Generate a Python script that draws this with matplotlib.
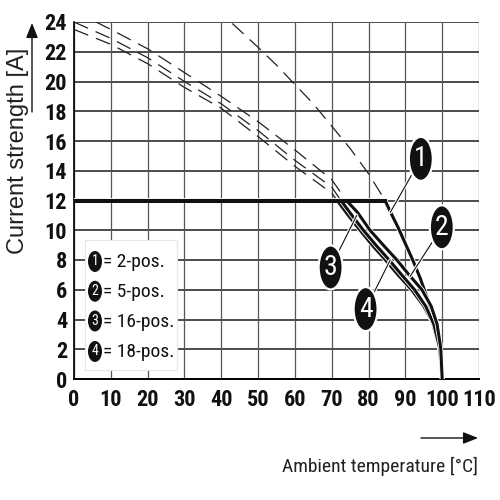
import matplotlib
matplotlib.use("Agg")
import matplotlib.pyplot as plt
from matplotlib import font_manager as fm
from matplotlib.patches import Ellipse, Rectangle, FancyArrowPatch
import matplotlib.patheffects as pe

# ---------------- data ----------------
x_ticks = [0, 10, 20, 30, 40, 50, 60, 70, 80, 90, 100, 110]
y_ticks = [0, 2, 4, 6, 8, 10, 12, 14, 16, 18, 20, 22, 24]

callout_labels = ["1", "2", "3", "4"]
legend_labels = ["2-pos.", "5-pos.", "16-pos.", "18-pos."]

# dashed (theoretical) parts above 12 A
c1_dash_t = [43, 50, 55, 60, 65, 70, 75, 80, 84.5]
c1_dash_i = [23.9, 22.3, 21.1, 19.8, 18.5, 17.0, 15.5, 13.8, 12.0]
c2_dash_t = [6, 10, 20, 30, 40, 50, 60, 70, 74]
c2_dash_i = [24.0, 23.5, 22.2, 20.6, 19.0, 17.3, 15.4, 13.4, 12.0]
c3_dash_t = [0, 10, 20, 30, 40, 50, 60, 70, 72.5]
c3_dash_i = [24.0, 22.9, 21.6, 20.0, 18.5, 16.7, 14.7, 12.9, 12.0]
c4_dash_t = [0, 10, 20, 30, 40, 50, 60, 70, 71.5]
c4_dash_i = [23.5, 22.5, 21.2, 19.6, 18.2, 16.3, 14.3, 12.5, 12.0]

# solid derating curves
c1_t = [0, 84.5, 86, 88, 90, 92, 94, 96, 98, 99, 99.6, 100]
c1_i = [12, 12.0, 11.2, 10.2, 9.1, 8.0, 6.8, 5.4, 3.7, 2.5, 1.4, 0]
c2_t = [0, 74, 77, 80.4, 84, 87.7, 91, 94.5, 97, 98.6, 99.6, 100]
c2_i = [12, 12, 11.2, 10.0, 9.0, 8.0, 7.0, 6.0, 4.9, 3.7, 2.1, 0]
c3_t = [0, 72.5, 75.5, 78.6, 82, 85.6, 89, 92.5, 95.5, 97.7, 99.3, 100]
c3_i = [12, 12, 11.0, 10.0, 9.0, 8.0, 7.0, 6.0, 4.9, 3.7, 2.1, 0]
c4_t = [0, 71.5, 74.5, 77.7, 81, 84.6, 88, 91.7, 95, 97.4, 99.2, 100]
c4_i = [12, 12, 11.0, 10.0, 9.0, 8.0, 7.0, 6.0, 4.9, 3.8, 2.1, 0]

# ---------------- fonts ----------------
names = {f.name for f in fm.fontManager.ttflist}
def pick(cands):
    for n in cands:
        if n in names:
            return n
    return "DejaVu Sans"
NARROW = pick(["Roboto Condensed", "Liberation Sans Narrow", "Liberation Sans"])
REG = pick(["Liberation Sans", "Arial", "DejaVu Sans"])

plt.rcParams["lines.scale_dashes"] = False

W = H = 500
fig = plt.figure(figsize=(5, 5), dpi=100)
fig.patch.set_facecolor("white")
L, R, T, B = 74, 479, 22, 379
ax = fig.add_axes([L / W, 1 - B / H, (R - L) / W, (B - T) / H])
ax.set_xlim(0, 110)
ax.set_ylim(0, 24)

# grid
for yv in y_ticks:
    ax.axhline(yv, color="#1a1a1a", lw=1.1, zorder=1)
for xv in x_ticks:
    ax.axvline(xv, color="#555555", lw=0.9, zorder=1)
for s in ["top", "right"]:
    ax.spines[s].set_visible(False)
ax.spines["left"].set_linewidth(1.2)
ax.spines["bottom"].set_linewidth(1.4)

ax.set_xticks(x_ticks)
ax.set_yticks(y_ticks)
ax.tick_params(length=0)
ax.tick_params(axis="y", pad=5)
ax.tick_params(axis="x", pad=7)
for lab in ax.get_xticklabels() + ax.get_yticklabels():
    lab.set_fontfamily(NARROW)
    lab.set_fontweight("bold")
    lab.set_fontsize(16)
    lab.set_color("#111111")

# dashed
dash_kw = dict(color="#222222", lw=0.9, dashes=(11, 6), zorder=3)
ax.plot(c1_dash_t, c1_dash_i, **dash_kw)
ax.plot(c2_dash_t, c2_dash_i, **dash_kw)
ax.plot(c3_dash_t, c3_dash_i, **dash_kw)
ax.plot(c4_dash_t, c4_dash_i, **dash_kw)

# solid
halo = [pe.Stroke(linewidth=3.4, foreground="white"), pe.Normal()]
for tt, ii in [(c1_t, c1_i), (c4_t, c4_i), (c3_t, c3_i), (c2_t, c2_i)]:
    ax.plot(tt, ii, color="#111111", lw=2.2, solid_capstyle="butt",
            solid_joinstyle="round", zorder=4, path_effects=halo)
ax.plot(c1_t[:2], c1_i[:2], color="#111111", lw=2.9, zorder=5)

# callouts (label oval centre, leader target)
px_per_t = (R - L) / 110.0
px_per_i = (B - T) / 24.0
oval_w = 24 / px_per_t
oval_h = 44 / px_per_i
callout_pos = [(94.2, 14.8), (99.9, 10.2), (69.7, 7.5), (79.2, 4.7)]
callout_tgt = [(85.9, 11.2), (91.3, 6.9), (76.8, 11.0), (85.9, 8.0)]
for lab, (cx, cy), (tx, ty) in zip(callout_labels, callout_pos, callout_tgt):
    ax.annotate("", xy=(tx, ty), xytext=(cx, cy),
                arrowprops=dict(arrowstyle="-", color="#111111", lw=0.8,
                                shrinkA=0, shrinkB=0,
                                path_effects=[pe.Stroke(linewidth=2.4, foreground="white"), pe.Normal()]),
                zorder=6)
    ax.add_patch(Ellipse((cx, cy), oval_w, oval_h, facecolor="#111111",
                         edgecolor="white", lw=1.6, zorder=7))
    ax.text(cx, cy, lab, color="white", ha="center", va="center",
            fontfamily=NARROW, fontsize=20, zorder=8)

# legend box
ax.add_patch(Rectangle((3.0, 0.6), 24.9, 8.75, facecolor="white",
                       edgecolor="#e6e6e6", lw=0.8, zorder=6))
leg_y = [7.9, 5.9, 3.9, 1.85]
for lab, txt, yy in zip(callout_labels, legend_labels, leg_y):
    ax.add_patch(Ellipse((5.7, yy), 14 / px_per_t, 21 / px_per_i,
                         facecolor="#111111", edgecolor="none", zorder=7))
    ax.text(5.7, yy, lab, color="white", ha="center", va="center",
            fontfamily=NARROW, fontsize=10, zorder=8)
    ax.text(8.0, yy - 0.05, "= " + txt, color="#111111", ha="left", va="center",
            fontfamily=NARROW, fontsize=14, zorder=8)

# axis titles and arrows
fig.text(18.5 / W, 1 - 151 / H, "Current strength [A]", rotation=90,
         ha="center", va="center", fontfamily=REG, fontsize=17, color="#222222")
fig.text(478 / W, 1 - 472 / H, "Ambient temperature [°C]", ha="right",
         va="baseline", fontfamily=NARROW, fontsize=14, color="#222222")
arrow_kw = dict(arrowstyle="-|>,head_length=0.45,head_width=0.18",
                color="#111111", lw=1.0, shrinkA=0, shrinkB=0, mutation_scale=20)
fig.add_artist(FancyArrowPatch(
    (32 / W, 1 - 112 / H), (32 / W, 1 - 23 / H), transform=fig.transFigure, **arrow_kw))
fig.add_artist(FancyArrowPatch(
    (421 / W, 1 - 438 / H), (478 / W, 1 - 438 / H), transform=fig.transFigure, **arrow_kw))

fig.savefig("out.png", dpi=100, facecolor="white")
